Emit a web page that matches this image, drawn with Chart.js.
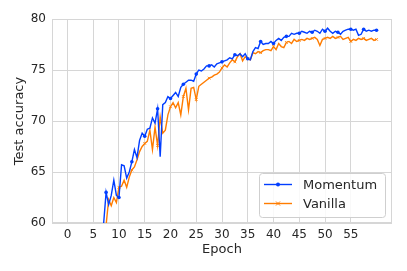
<!DOCTYPE html>
<html>
<head>
<meta charset="utf-8">
<script src="https://cdn.jsdelivr.net/npm/chart.js@4.4.1/dist/chart.umd.min.js"></script>
<style>
  html, body { margin: 0; padding: 0; background: #fff; }
  #wrap { width: 407px; height: 271px; }
</style>
</head>
<body>
<div id="wrap"><canvas id="acc-chart"></canvas></div>
<script>
// epochs, two samples per epoch
const epochs = [
  0, 0.5, 1, 1.5, 2, 2.5, 3, 3.5, 4, 4.5, 5, 5.5, 6, 6.5, 7, 7.5, 8, 8.5, 9, 9.5,
  10, 10.5, 11, 11.5, 12, 12.5, 13, 13.5, 14, 14.5, 15, 15.5, 16, 16.5, 17, 17.5, 18, 18.5, 19, 19.5,
  20, 20.5, 21, 21.5, 22, 22.5, 23, 23.5, 24, 24.5, 25, 25.5, 26, 26.5, 27, 27.5, 28, 28.5, 29, 29.5,
  30, 30.5, 31, 31.5, 32, 32.5, 33, 33.5, 34, 34.5, 35, 35.5, 36, 36.5, 37, 37.5, 38, 38.5, 39, 39.5,
  40, 40.5, 41, 41.5, 42, 42.5, 43, 43.5, 44, 44.5, 45, 45.5, 46, 46.5, 47, 47.5, 48, 48.5, 49, 49.5,
  50, 50.5, 51, 51.5, 52, 52.5, 53, 53.5, 54, 54.5, 55, 55.5, 56, 56.5, 57, 57.5, 58, 58.5, 59, 59.5,
  60
];

const momentumAcc = [
  35, 40, 44, 47, 49, 51, 52.5, 54, 55, 56, 57, 57.8, 58.5, 59.2, 59.8, 63.0, 61.8, 62.7, 64.2, 62.7,
  62.5, 65.7, 65.6, 64.4, 65.0, 66.0, 67.2, 66.4, 68.1, 68.8, 68.5, 69.2, 69.3, 70.3, 69.8, 71.2, 66.5, 71.6, 71.8, 72.4,
  72.2, 72.5, 72.8, 72.4, 73.3, 73.6, 73.8, 74.0, 74.0, 73.9, 74.6, 75.0, 74.9, 75.1, 75.4, 75.4, 75.5, 75.3, 75.6, 75.7,
  75.8, 75.9, 76.0, 76.2, 76.1, 76.5, 76.4, 76.6, 76.3, 76.6, 76.1, 76.0, 76.8, 77.2, 77.1, 77.8, 77.5, 77.6, 77.6, 77.8,
  77.6, 77.9, 78.1, 77.9, 78.2, 78.3, 78.3, 78.6, 78.5, 78.6, 78.6, 78.8, 78.7, 78.6, 78.8, 78.7, 78.9, 78.8, 78.6, 79.0,
  78.8, 79.1, 78.8, 78.6, 78.8, 78.7, 78.5, 78.8, 78.9, 79.0, 79.0, 78.9, 79.0, 78.4, 78.5, 79.0, 78.8, 78.9, 78.8, 78.9,
  78.9
];

const vanillaAcc = [
  30, 36, 40, 43, 46, 48, 50, 51.5, 53, 54, 55, 56, 56.8, 57.5, 58.3, 59.8, 62.3, 61.7, 62.5, 62.0,
  63.5, 63.6, 64.2, 63.5, 64.5, 65.2, 65.5, 66.2, 67.0, 67.5, 67.8, 68.0, 69.1, 67.2, 69.4, 67.6, 70.4, 68.8, 69.1, 70.6,
  71.4, 71.8, 71.3, 71.8, 70.6, 72.4, 73.2, 71.1, 73.2, 73.3, 72.1, 73.4, 73.6, 73.8, 74.0, 74.2, 74.3, 74.5, 74.6, 74.8,
  75.2, 75.5, 75.3, 75.7, 76.0, 75.8, 76.3, 76.6, 75.9, 76.3, 76.1, 76.0, 76.7, 76.6, 76.8, 76.7, 76.9, 77.0, 77.0, 76.9,
  77.3, 77.0, 77.6, 77.3, 77.2, 77.7, 77.8, 77.6, 78.0, 77.8, 77.9, 78.0, 77.9, 78.1, 78.0, 78.1, 78.2, 78.0, 77.4, 78.0,
  78.1, 78.2, 78.1, 78.3, 78.1, 78.2, 78.3, 78.0, 78.1, 78.2, 77.8, 78.0, 77.9, 78.1, 78.0, 78.1, 77.9, 78.0, 78.1, 77.9,
  78.0
];

const xTicks = [0, 5, 10, 15, 20, 25, 30, 35, 40, 45, 50, 55];

const FONT = "'DejaVu Sans', sans-serif";
const INK = '#262626';
const GRID = '#d6d6d6';
const BLUE = '#023eff';
const ORANGE = '#ff7c00';

const toPoints = ys => epochs.map((x, i) => ({ x, y: ys[i] }));
const markEvery = n => ctx => (ctx.dataIndex % n === 0 ? 1 : 0);

// grey box round the plot area, like the seaborn spines
const frame = {
  id: 'frame',
  beforeDatasetsDraw(chart) {
    const { ctx, chartArea: a } = chart;
    ctx.save();
    ctx.strokeStyle = GRID;
    ctx.lineWidth = 1;
    ctx.strokeRect(a.left + 0.5, a.top + 0.5, a.right - a.left - 1, a.bottom - a.top - 1);
    ctx.restore();
  }
};

// legend sitting in the lower right corner of the plot
const cornerLegend = {
  id: 'cornerLegend',
  afterDraw(chart) {
    const { ctx, chartArea: a } = chart;
    const w = 126, h = 44;
    const x0 = a.right - 7 - w, y0 = a.bottom - 6 - h;
    ctx.save();
    ctx.fillStyle = 'rgba(255,255,255,0.85)';
    ctx.strokeStyle = '#cfcfcf';
    ctx.lineWidth = 1;
    ctx.beginPath();
    ctx.roundRect(x0 + 0.5, y0 + 0.5, w, h, 3);
    ctx.fill();
    ctx.stroke();
    ctx.font = "13px " + FONT;
    ctx.textBaseline = 'middle';
    chart.data.datasets.forEach((ds, i) => {
      const cy = y0 + 11.5 + i * 19;
      ctx.strokeStyle = ds.borderColor;
      ctx.lineWidth = 1.4;
      ctx.beginPath();
      ctx.moveTo(x0 + 5, cy);
      ctx.lineTo(x0 + 33, cy);
      ctx.stroke();
      const mx = x0 + 19;
      if (ds.pointStyle === 'circle') {
        ctx.fillStyle = ds.borderColor;
        ctx.beginPath();
        ctx.arc(mx, cy, 2, 0, Math.PI * 2);
        ctx.fill();
      } else {
        ctx.lineWidth = 1;
        ctx.beginPath();
        ctx.moveTo(mx - 2, cy - 2); ctx.lineTo(mx + 2, cy + 2);
        ctx.moveTo(mx - 2, cy + 2); ctx.lineTo(mx + 2, cy - 2);
        ctx.stroke();
      }
      ctx.fillStyle = INK;
      ctx.fillText(ds.label, x0 + 44, cy + 1);
    });
    ctx.restore();
  }
};

new Chart(document.getElementById('acc-chart'), {
  type: 'line',
  data: {
    datasets: [
      {
        label: 'Momentum',
        data: toPoints(momentumAcc),
        borderColor: BLUE,
        backgroundColor: BLUE,
        borderWidth: 1.4,
        pointStyle: 'circle',
        pointRadius: ctx => markEvery(5)(ctx) * 1.8,
        pointBorderWidth: 0,
        tension: 0
      },
      {
        label: 'Vanilla',
        data: toPoints(vanillaAcc),
        borderColor: ORANGE,
        backgroundColor: ORANGE,
        borderWidth: 1.4,
        pointStyle: 'crossRot',
        pointRadius: ctx => markEvery(5)(ctx) * 2,
        pointBorderWidth: 0.8,
        tension: 0
      }
    ]
  },
  options: {
    animation: false,
    responsive: true,
    maintainAspectRatio: false,
    events: [],
    layout: { padding: { left: 8, top: 19, right: 15, bottom: 14 } },
    plugins: {
      legend: { display: false },
      tooltip: { enabled: false }
    },
    scales: {
      x: {
        type: 'linear',
        min: -3,
        max: 63,
        afterBuildTicks: s => { s.ticks = xTicks.map(v => ({ value: v })); },
        afterFit: s => { s.height = 34; },
        grid: { color: GRID, drawTicks: false },
        border: { display: false },
        ticks: { padding: 5, color: INK, maxRotation: 0, autoSkip: false, font: { family: FONT, size: 12 } },
        title: { display: true, text: 'Epoch', color: INK, padding: 0, font: { family: FONT, size: 13 } }
      },
      y: {
        min: 60,
        max: 80,
        afterFit: s => { s.width = 44; },
        grid: { color: GRID, drawTicks: false },
        border: { display: false },
        ticks: { stepSize: 5, padding: 6, color: INK, font: { family: FONT, size: 12 } },
        title: { display: true, text: 'Test accuracy', color: INK, padding: { top: 4, bottom: 0 }, font: { family: FONT, size: 13 } }
      }
    }
  },
  plugins: [frame, cornerLegend]
});
</script>
</body>
</html>
